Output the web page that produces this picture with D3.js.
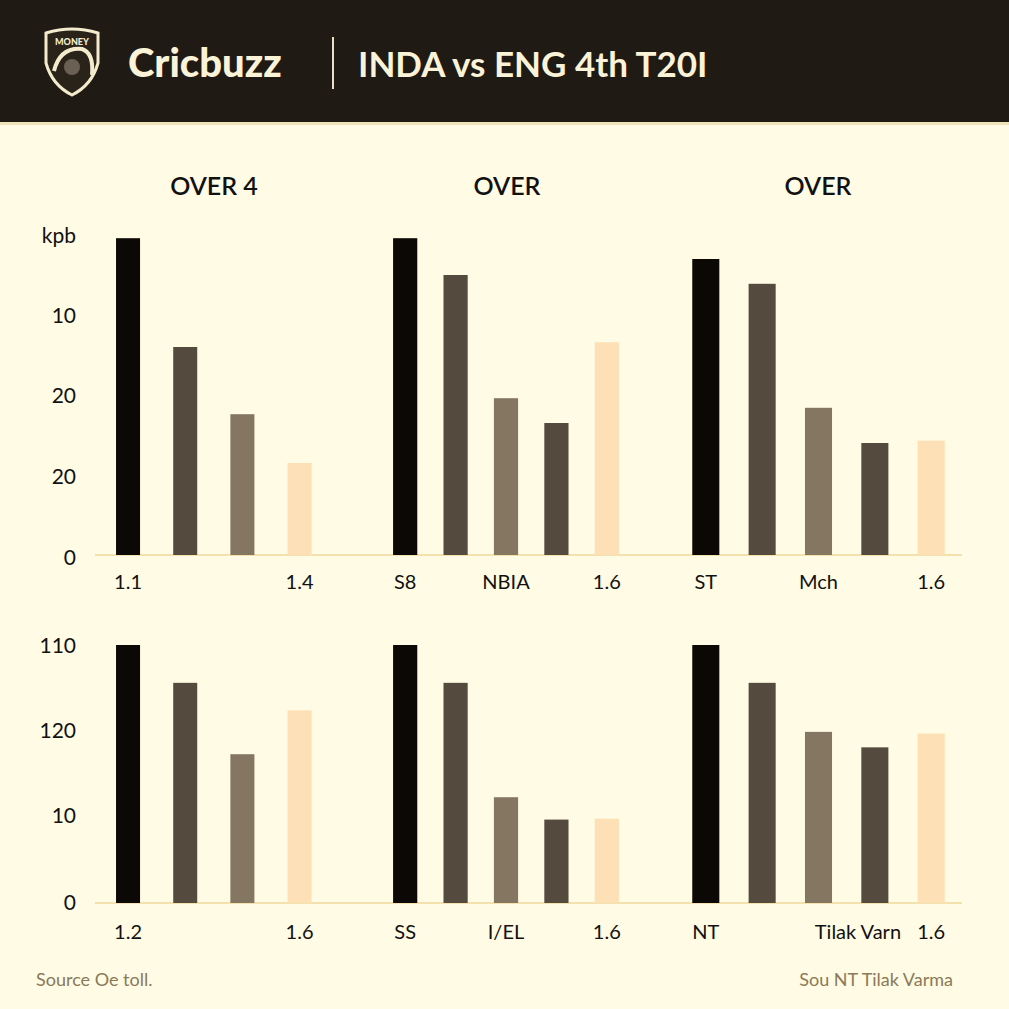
<!DOCTYPE html>
<html><head><meta charset="utf-8">
<script src="https://cdn.jsdelivr.net/npm/d3@7"></script>
<style>body{margin:0;background:#fffbe4}</style></head>
<body><svg id="c" width="1009" height="1009"></svg>
<script>
const panelTitles = ["OVER 4","OVER","OVER"];
const topTickLabels = ["0","20","20","10","kpb"];
const bottomTickLabels = ["0","10","120","110"];
const topValues = [[3.96,2.6,1.76,1.15],[3.96,3.5,1.96,1.65,2.66],[3.7,3.39,1.84,1.4,1.43]];
const bottomValues = [[3.0,2.56,1.73,2.24],[3.0,2.56,1.23,0.97,0.98],[3.0,2.56,1.99,1.81,1.97]];
const panelColors = [["#0b0805","#554a3e","#857661","#fde0b5"],["#0b0805","#554a3e","#857661","#554a3e","#fde0b5"],["#0b0805","#554a3e","#857661","#554a3e","#fde0b5"]];
const topXLabels = [[["1.1",0],["1.4",3]],[["S8",0],["NBIA",2],["1.6",4]],[["ST",0],["Mch",2],["1.6",4]]];
const bottomXLabels = [[["1.2",0],["1.6",3]],[["SS",0],["I/EL",2],["1.6",4]],[["NT",0],["Tilak Varn",2.7],["1.6",4]]];

const svg = d3.select("#c");
const F = "Lato, 'Open Sans', sans-serif";
svg.append("rect").attr("width",1009).attr("height",1009).attr("fill","#fffbe4");
svg.append("rect").attr("width",1009).attr("height",122).attr("fill","#1f1a14");
svg.append("rect").attr("y",122).attr("width",1009).attr("height",3).attr("fill","#efe2b8");
// logo
const lg = svg.append("g").attr("transform","translate(72,63)");
lg.append("path").attr("d","M-26,-30 Q0,-38 26,-30 L26,0 Q20,22 0,32 Q-20,22 -26,0 Z").attr("fill","#2a231a").attr("stroke","#f4ebcc").attr("stroke-width",3);
lg.append("path").attr("d","M-18,8 Q-12,-16 10,-14 Q22,-10 20,12").attr("fill","none").attr("stroke","#f4ebcc").attr("stroke-width",4);
lg.append("circle").attr("r",8).attr("cy",4).attr("fill","#6a6054");
lg.append("text").attr("y",-18).attr("text-anchor","middle").attr("font-size",9).attr("font-weight",900).attr("fill","#f4ebcc").attr("font-family",F).text("MONEY");
svg.append("text").attr("x",128).attr("y",77).attr("font-family",F).attr("font-weight",900).attr("font-size",40).attr("fill","#fbf3d8").text("Cricbuzz");
svg.append("line").attr("x1",333).attr("x2",333).attr("y1",37).attr("y2",89).attr("stroke","#e8dfc4").attr("stroke-width",2);
svg.append("text").attr("x",358).attr("y",77).attr("font-family",F).attr("font-weight",700).attr("font-size",35).attr("fill","#fbf3d8").text("INDA vs ENG 4th T20I");

function row(values, ticks, xlabels, base, unit, labelY, tickYs){
  const y = d3.scaleLinear().domain([0,4]).range([base, base-4*unit]);
  ticks.forEach((t,i)=>svg.append("text").attr("x",76).attr("y",tickYs[i]).attr("text-anchor","end")
    .attr("font-family",F).attr("font-size",21).attr("fill","#111").text(t));
  svg.append("line").attr("x1",95).attr("x2",962).attr("y1",base).attr("y2",base).attr("stroke","#f3e2ad").attr("stroke-width",2);
  values.forEach((vals,p)=>{
    const n = vals.length;
    const x = d3.scaleBand().domain(d3.range(n)).range(p==0?[104.6,323]:(p==1?[383,629]:[681,956])).paddingInner(n==4?0.58:0.52).paddingOuter(0.2);
    svg.selectAll(null).data(vals).join("rect").attr("x",(d,i)=>x(i)).attr("width",x.bandwidth())
      .attr("y",d=>y(d)).attr("height",d=>base-y(d)).attr("fill",(d,i)=>panelColors[p][i]);
    xlabels[p].forEach(([t,i])=>{
      const cx = Math.floor(i)===i ? x(i)+x.bandwidth()/2 : x(2)+(i-2)*(x(3)-x(2))+x.bandwidth()/2;
      svg.append("text").attr("x",cx).attr("y",labelY).attr("text-anchor","middle")
        .attr("font-family",F).attr("font-size",20).attr("fill","#111").text(t);
    });
  });
}
[214,507,818].forEach((cx,i)=>svg.append("text").attr("x",cx).attr("y",195).attr("text-anchor","middle")
  .attr("font-family",F).attr("font-weight",600).attr("font-size",25).attr("fill","#111").text(panelTitles[i]));
row(topValues, topTickLabels, topXLabels, 555, 80, 589, [565,484,403,323,243]);
row(bottomValues, bottomTickLabels, bottomXLabels, 903, 86, 939, [910,823,738,653]);
svg.append("text").attr("x",36).attr("y",986).attr("font-family",F).attr("font-size",18).attr("fill","#8a7a58").text("Source Oe toll.");
svg.append("text").attr("x",953).attr("y",986).attr("text-anchor","end").attr("font-family",F).attr("font-size",18).attr("fill","#8a7a58").text("Sou NT Tilak Varma");
</script></body></html>
